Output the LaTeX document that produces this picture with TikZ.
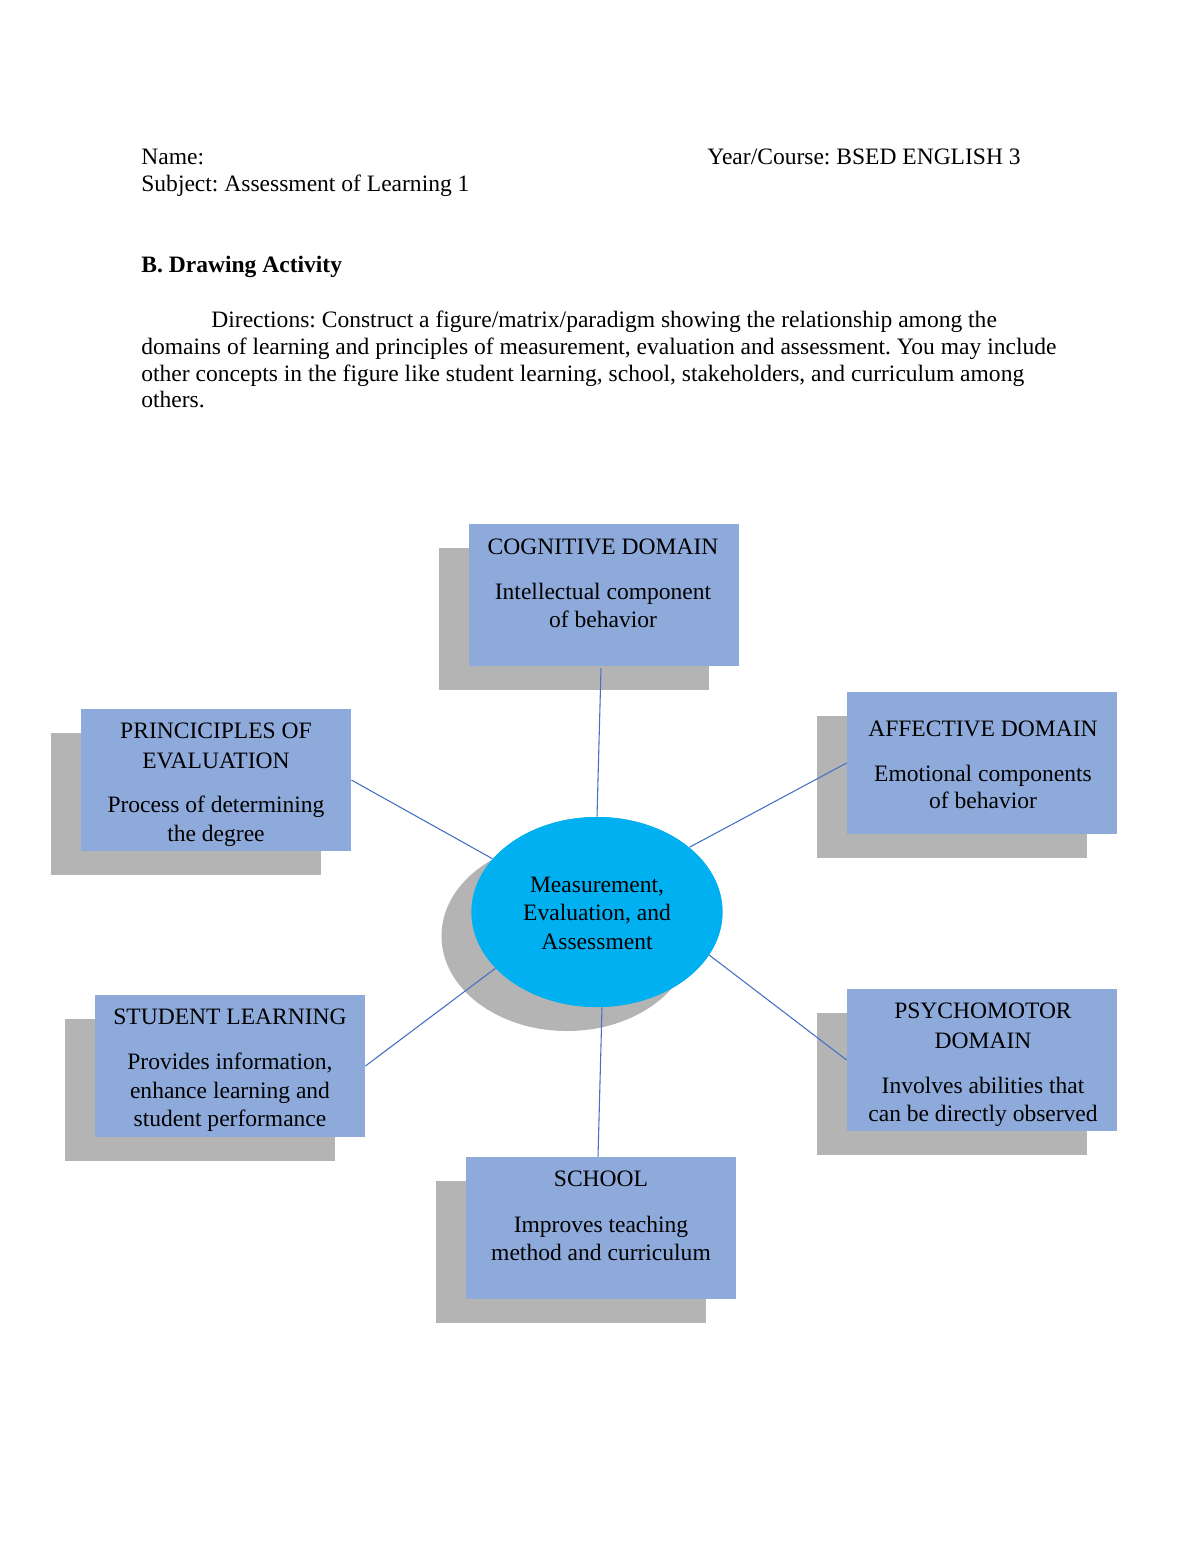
\documentclass[tikz,border=0pt]{standalone}
\usepackage{fontspec}
\setmainfont{Liberation Serif}
\usetikzlibrary{shapes.geometric,calc}
\definecolor{boxblue}{RGB}{142,170,219}
\definecolor{shadowgray}{RGB}{180,180,180}
\definecolor{ellblue}{RGB}{0,176,240}
\definecolor{linkblue}{RGB}{68,114,196}
\frenchspacing
\begin{document}
\begin{tikzpicture}[x=0.51pt,y=-0.51pt,
  panel/.style={rectangle, fill=boxblue, minimum width={270*0.51pt}, minimum height={142*0.51pt}, inner sep=0pt},
  panelshadow/.style={panel, fill=shadowgray},
  oval/.style={ellipse, fill=ellblue, minimum width={251*0.51pt}, minimum height={190*0.51pt}, inner sep=0pt},
  ovalshadow/.style={oval, fill=shadowgray},
  txt/.style={font=\fontsize{12}{13.8}\selectfont, inner sep=0pt, anchor=base},
  htxt/.style={txt, anchor=base west},
  link/.style={draw=linkblue, line width=0.55pt}]
\fill[white] (0,0) rectangle (1200,1553);
\useasboundingbox (0,0) rectangle (1200,1553);

% header
\node[htxt] (name) at (141,165) {Name:};
\node[htxt] (year) at (707,165) {Year/Course: BSED ENGLISH 3};
\node[htxt] (subj) at (141,192) {Subject: Assessment of Learning 1};
\node[htxt, font=\fontsize{12}{13.8}\selectfont\bfseries] (bhead) at (141,272) {B. Drawing Activity};
\node[htxt] (dir1) at (211,327) {Directions: Construct a figure/matrix/paradigm showing the relationship among the};
\node[htxt] (dir2) at (141,354) {domains of learning and principles of measurement, evaluation and assessment. You may include};
\node[htxt] (dir3) at (141,381) {other concepts in the figure like student learning, school, stakeholders, and curriculum among};
\node[htxt] (dir4) at (141,407) {others.};

% shadows
\node[panelshadow] (cogS) at (574,619) {};
\node[panelshadow] (priS) at (186,804) {};
\node[panelshadow] (affS) at (952,787) {};
\node[panelshadow] (stuS) at (200,1090) {};
\node[panelshadow] (psyS) at (952,1084) {};
\node[panelshadow] (schS) at (571,1252) {};

% boxes
\node[panel] (cog) at (604,595) {};
\node[panel] (pri) at (216,780) {};
\node[panel] (aff) at (982,763) {};
\node[panel] (stu) at (230,1066) {};
\node[panel] (psy) at (982,1060) {};
\node[panel] (sch) at (601,1228) {};

% ellipse shadow
\node[ovalshadow] (ellS) at (567,936) {};

% ellipse (placed for anchors), connectors drawn after, ellipse drawn on top
\path (597,912) node[oval] (ell) {};
\draw[link] ($(cog.south)+(-3,2)$) -- (ell.north);
\draw[link] (pri.east) -- (ell.153);
\draw[link] (aff.west) -- (ell.35);
\draw[link] (stu.east) -- (ell.209);
\draw[link] (psy.west) -- (ell.339);
\draw[link] ($(ell.south)+(5,0)$) -- ($(sch.north)+(-3,0)$);
\node[oval] (ellTop) at (ell) {};

% texts
\node[txt] (cogT) at (603,554) {COGNITIVE DOMAIN};
\node[txt] (cogD1) at (603,599) {Intellectual component};
\node[txt] (cogD2) at (603,627) {of behavior};

\node[txt] (priT1) at (216,738) {PRINCICIPLES OF};
\node[txt] (priT2) at (216,768) {EVALUATION};
\node[txt] (priD1) at (216,812) {Process of determining};
\node[txt] (priD2) at (216,841) {the degree};

\node[txt] (affT) at (983,736) {AFFECTIVE DOMAIN};
\node[txt] (affD1) at (983,781) {Emotional components};
\node[txt] (affD2) at (983,808) {of behavior};

\node[txt] (ellL1) at (597,892) {Measurement,};
\node[txt] (ellL2) at (597,920) {Evaluation, and};
\node[txt] (ellL3) at (597,949) {Assessment};

\node[txt] (stuT) at (230,1024) {STUDENT LEARNING};
\node[txt] (stuD1) at (230,1069) {Provides information,};
\node[txt] (stuD2) at (230,1098) {enhance learning and};
\node[txt] (stuD3) at (230,1126) {student performance};

\node[txt] (psyT1) at (983,1018) {PSYCHOMOTOR};
\node[txt] (psyT2) at (983,1048) {DOMAIN};
\node[txt] (psyD1) at (983,1093) {Involves abilities that};
\node[txt] (psyD2) at (983,1121) {can be directly observed};

\node[txt] (schT) at (601,1186) {SCHOOL};
\node[txt] (schD1) at (601,1232) {Improves teaching};
\node[txt] (schD2) at (601,1260) {method and curriculum};
\end{tikzpicture}
\end{document}
